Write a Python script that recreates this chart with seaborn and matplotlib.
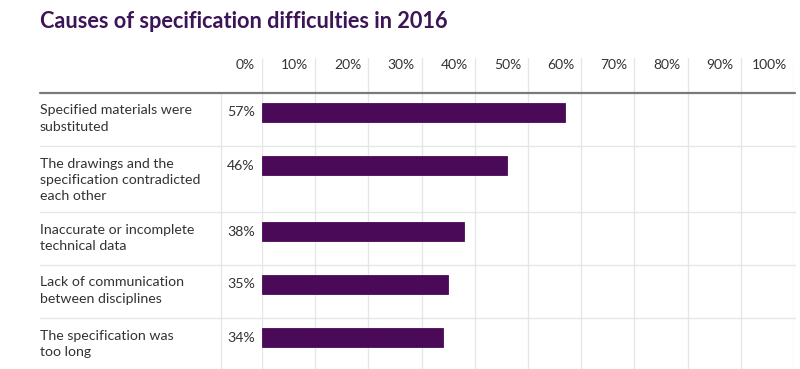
import matplotlib
matplotlib.use("Agg")
import matplotlib.pyplot as plt
from matplotlib.lines import Line2D
from matplotlib import transforms
import seaborn as sns
import pandas as pd

# ---- data ----
categories = [
    "Specified materials were\nsubstituted",
    "The drawings and the\nspecification contradicted\neach other",
    "Inaccurate or incomplete\ntechnical data",
    "Lack of communication\nbetween disciplines",
    "The specification was\ntoo long",
]
values = [57, 46, 38, 35, 34]
tick_values = [0, 10, 20, 30, 40, 50, 60, 70, 80, 90, 100]
tick_labels = ["0%", "10%", "20%", "30%", "40%", "50%", "60%", "70%", "80%", "90%", "100%"]
title = "Causes of specification difficulties in 2016"

# ---- style ----
sns.set_theme(style="white")
plt.rcParams["font.family"] = ["Lato", "DejaVu Sans"]

BAR = "#4a0a57"
TITLE_C = "#3c1556"
TEXT_C = "#333333"
GRID_C = "#e4e7e9"
HEAD_C = "#7a7a7a"

W, H = 800, 369
DPI = 100
fig = plt.figure(figsize=(W / DPI, H / DPI), dpi=DPI)
fig.patch.set_facecolor("white")

# layout in pixels
x0_px, x1_px = 262, 794
top_px, head_px = 58, 93
ax = fig.add_axes([x0_px / W, 0, (x1_px - x0_px) / W, (H - top_px) / H])

# row layout derived from the number of label lines
n_lines = [c.count("\n") + 1 for c in categories]
row_h = [27 + 13 * n for n in n_lines]
row_top = [sum(row_h[:i]) for i in range(len(row_h))]
bar_h = 19
centers = [t + 9.5 + bar_h / 2 for t in row_top]

df = pd.DataFrame({"cat": categories, "value": values, "pos": centers})
min_gap = min(b - a for a, b in zip(centers[:-1], centers[1:]))
sns.barplot(data=df, x="value", y="pos", orient="h", native_scale=True,
            width=bar_h / min_gap, color=BAR, saturation=1, ax=ax,
            edgecolor=BAR, linewidth=0.6)

ax.set_xlim(0, 100)
ax.set_ylim(H - head_px, -(head_px - top_px))
ax.set_facecolor("none")
for s in ax.spines.values():
    s.set_visible(False)
ax.set_xlabel("")
ax.set_ylabel("")
ax.set_yticks([])
ax.grid(axis="x", color=GRID_C, linewidth=1)
ax.grid(axis="y", visible=False)
ax.set_axisbelow(True)

# top tick labels, right aligned left of each gridline
ax.xaxis.tick_top()
ax.set_xticks(tick_values)
ax.set_xticklabels(tick_labels)
ax.tick_params(axis="x", length=0, pad=0, labelsize=10, labelcolor=TEXT_C)
off = transforms.ScaledTranslation(-7 / DPI, -13 / DPI, fig.dpi_scale_trans)
for lbl in ax.get_xticklabels():
    lbl.set_horizontalalignment("right")
    lbl.set_verticalalignment("bottom")
    lbl.set_transform(lbl.get_transform() + off)

# blended transform: x in figure fraction, y in data
bt = transforms.blended_transform_factory(fig.transFigure, ax.transData)
left_x = 40 / W
right_x = 795 / W

# header line
fig.add_artist(Line2D([left_x, right_x], [0, 0], transform=bt, color=HEAD_C,
                      linewidth=1.6, zorder=5))
# row separators
for t in row_top[1:]:
    fig.add_artist(Line2D([left_x, right_x], [t, t], transform=bt, color=GRID_C,
                          linewidth=1, zorder=0))
# vertical line left of percentage column
fig.add_artist(Line2D([221 / W, 221 / W], [0, H - head_px], transform=bt,
                      color=GRID_C, linewidth=1, zorder=0))

# category labels and percentage labels
for cat, v, t, c in zip(categories, values, row_top, centers):
    fig.text(left_x, t + 11.5, cat, transform=bt, ha="left", va="top",
             fontsize=10.2, color=TEXT_C, linespacing=1.45)
    fig.text(255 / W, c + 0.5, f"{v}%", transform=bt, ha="right", va="center",
             fontsize=10.2, color=TEXT_C)

# title
fig.text(40 / W, 1 - 21 / H, title, ha="left", va="center", fontsize=15.7,
         fontweight="bold", color=TITLE_C)

fig.savefig("out.png", dpi=DPI, facecolor="white")
